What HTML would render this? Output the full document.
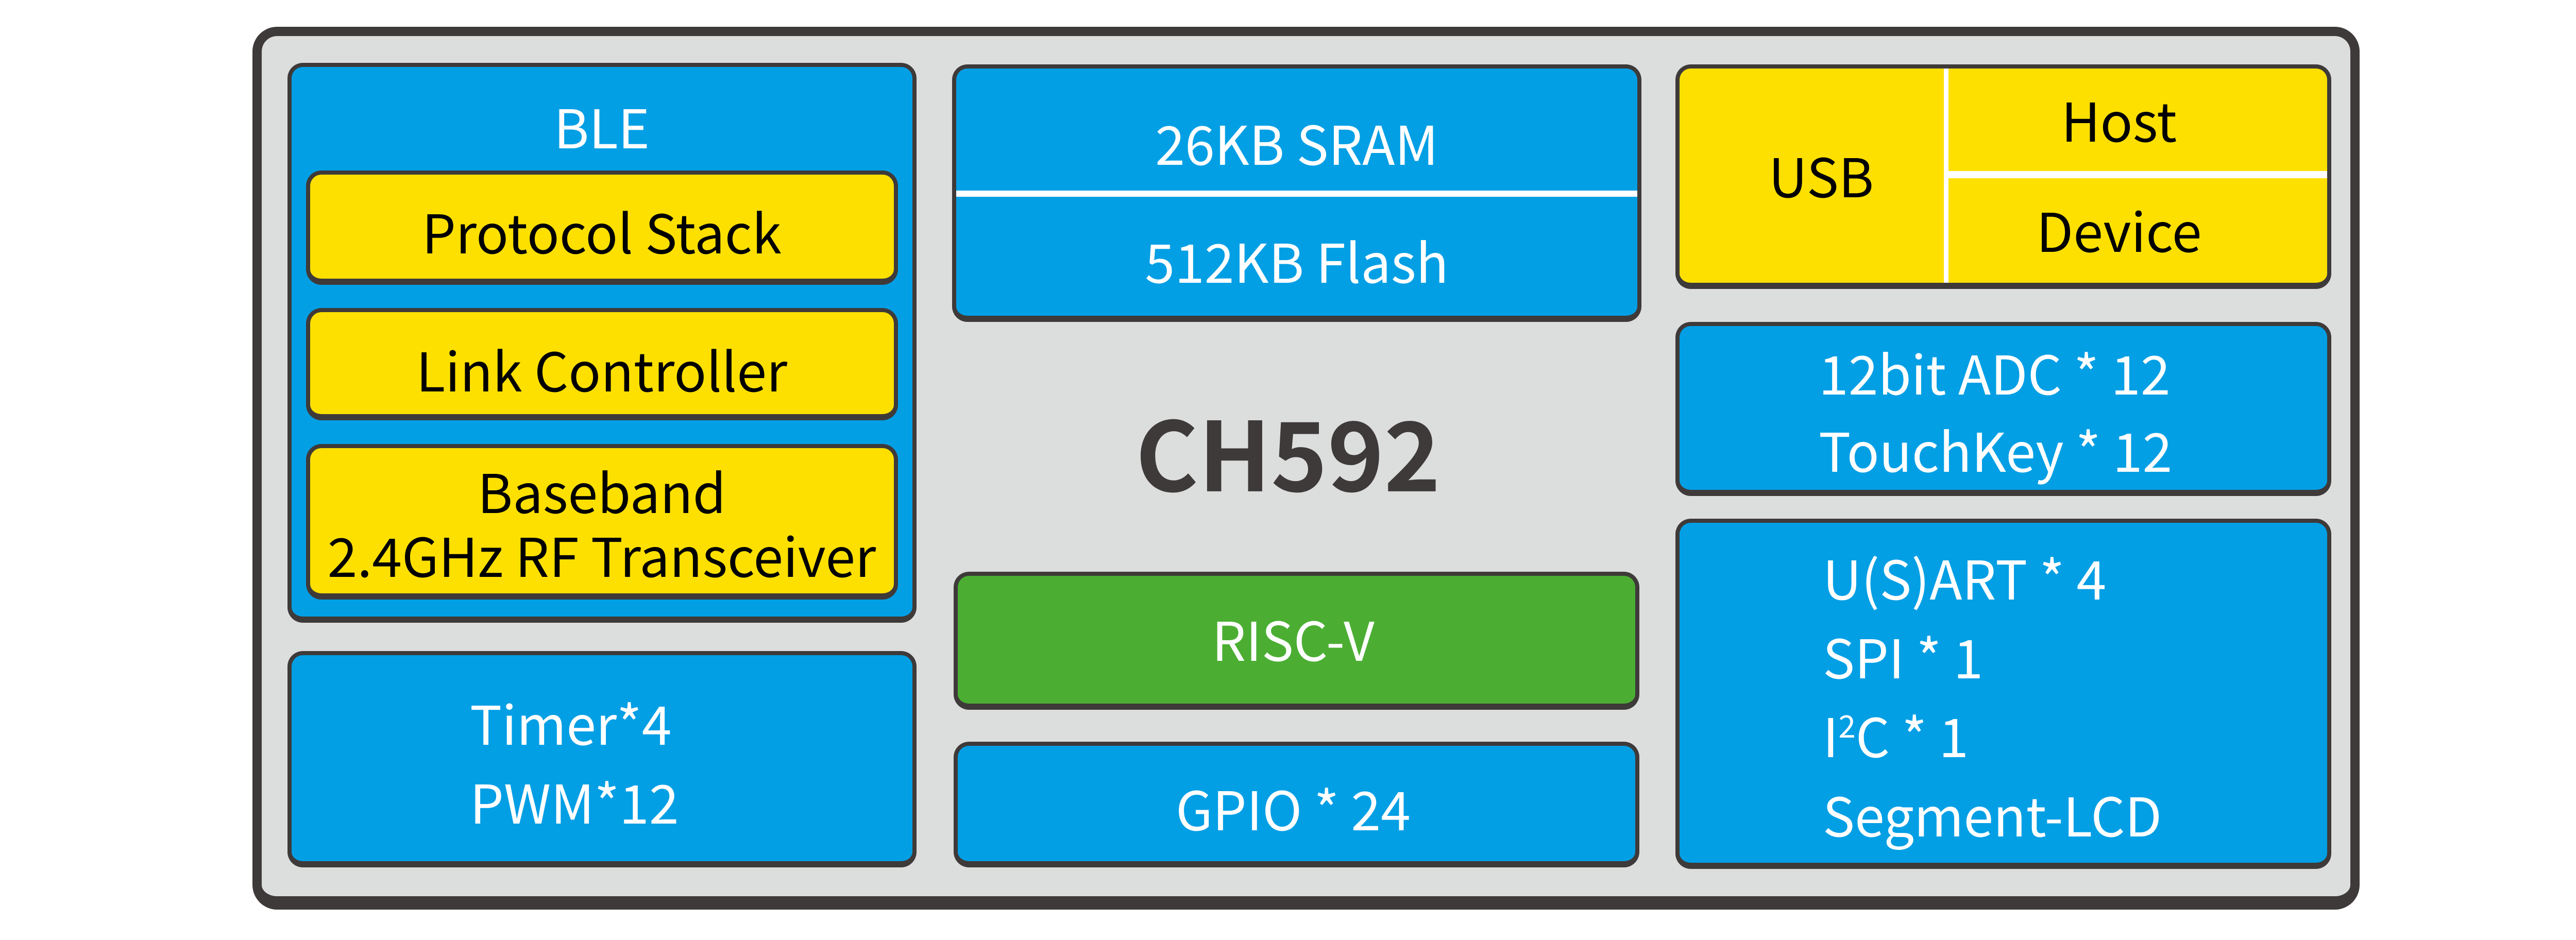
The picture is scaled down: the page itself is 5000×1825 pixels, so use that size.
<!DOCTYPE html>
<html><head><meta charset="utf-8"><style>
*{margin:0;padding:0;box-sizing:border-box}
body{width:5000px;height:1825px;background:#fff;position:relative;overflow:hidden;font-family:"Noto Sans CJK SC","Liberation Sans",sans-serif;}
.b{position:absolute;border:8px solid #3e3a39;border-bottom-width:12px;border-radius:30px;}
.blue{background:#039fe5;color:#fff}
.yel{background:#fde000;color:#000}
.t{position:absolute;font-size:104px;line-height:1;white-space:nowrap;transform:translate(-50%,-56%)}
.l{position:absolute;font-size:104px;line-height:1;white-space:nowrap;transform:translateY(-56%)}
.w{color:#fff}.k{color:#000}
</style></head><body>
<div class="b" style="left:490px;top:52px;width:4090px;height:1714px;background:#dcdedd;border-width:18px;border-top-width:18px;border-bottom-width:26px;border-radius:48px"></div>

<div class="b blue" style="left:558px;top:122px;width:1221px;height:1087px"></div>
<div class="b yel" style="left:594px;top:331px;width:1149px;height:222px"></div>
<div class="b yel" style="left:594px;top:598px;width:1149px;height:218px"></div>
<div class="b yel" style="left:594px;top:862px;width:1149px;height:302px"></div>
<div class="b blue" style="left:558px;top:1264px;width:1221px;height:420px"></div>

<div class="b blue" style="left:1848px;top:125px;width:1338px;height:500px"></div>
<div style="position:absolute;left:1856px;top:370px;width:1322px;height:12px;background:#fff"></div>
<div class="b" style="left:1851px;top:1110px;width:1331px;height:268px;background:#4bae33"></div>
<div class="b blue" style="left:1851px;top:1440px;width:1331px;height:244px"></div>

<div class="b yel" style="left:3252px;top:125px;width:1273px;height:436px"></div>
<div style="position:absolute;left:3773px;top:133px;width:9px;height:416px;background:#fff"></div>
<div style="position:absolute;left:3782px;top:332px;width:735px;height:14px;background:#fff"></div>
<div class="b blue" style="left:3252px;top:625px;width:1273px;height:338px"></div>
<div class="b blue" style="left:3252px;top:1007px;width:1273px;height:680px"></div>

<div class="t w" style="left:1168px;top:249px">BLE</div>
<div class="t k" style="left:1168px;top:453px">Protocol Stack</div>
<div class="t k" style="left:1168px;top:721px">Link Controller</div>
<div class="t k" style="left:1168px;top:957px">Baseband</div>
<div class="t k" style="left:1168px;top:1081px">2.4GHz RF Transceiver</div>
<div class="l w" style="left:912px;top:1407px">Timer*4</div>
<div class="l w" style="left:912px;top:1560px">PWM*12</div>

<div class="t w" style="left:2517px;top:281px">26KB SRAM</div>
<div class="t w" style="left:2517px;top:510px">512KB Flash</div>
<div class="t" style="left:2500px;top:884px;font-size:186px;font-weight:bold;color:#3e3a39">CH592</div>
<div class="t w" style="left:2510px;top:1244px">RISC-V</div>
<div class="t w" style="left:2510px;top:1573px">GPIO * 24</div>

<div class="t k" style="left:3535px;top:344px">USB</div>
<div class="t k" style="left:4113px;top:236px">Host</div>
<div class="t k" style="left:4113px;top:450px">Device</div>
<div class="l w" style="left:3530px;top:727px">12bit ADC * 12</div>
<div class="l w" style="left:3530px;top:877px">TouchKey * 12</div>
<div class="l w" style="left:3538px;top:1125px">U(S)ART * 4</div>
<div class="l w" style="left:3538px;top:1278px">SPI * 1</div>
<div class="l w" style="left:3538px;top:1431px">I<sup style="font-size:60px;vertical-align:38px">2</sup>C * 1</div>
<div class="l w" style="left:3538px;top:1585px">Segment-LCD</div>
</body></html>
